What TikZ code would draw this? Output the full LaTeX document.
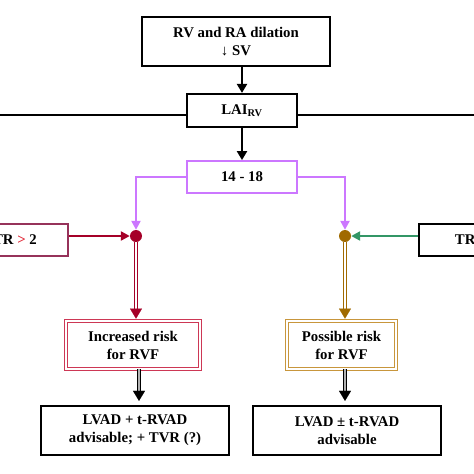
\documentclass[tikz,border=0pt]{standalone}
\usepackage{fontspec}
\setmainfont{Liberation Serif}
\usetikzlibrary{arrows.meta,positioning}
\definecolor{crimson}{RGB}{165,0,40}
\definecolor{rosewood}{RGB}{150,50,90}
\definecolor{hotred}{RGB}{225,40,55}
\definecolor{lilac}{RGB}{204,119,255}
\definecolor{ochre}{RGB}{160,106,0}
\definecolor{tan}{RGB}{200,150,60}
\definecolor{riskpink}{RGB}{205,55,85}
\definecolor{teal}{RGB}{51,150,102}
\tikzset{box/.style={rectangle,draw=black,line width=2.2pt,fill=white,align=center,inner sep=0pt,
			font=\fontsize{14.8}{18}\selectfont\bfseries},
		post/.style={-{Triangle[width=10pt,length=9pt]},line width=2.2pt},
		tip/.style={-{Triangle[width=12pt,length=10pt]},line width=0.1pt},
		dbl/.style={line width=1.4pt,double distance=1.8pt}}

\begin{document}
\begin{tikzpicture}[x=1pt,y=-1pt,
		wide/.style={box,minimum width=188pt,minimum height=49pt},
		risk/.style={box,line width=1.3pt,double=white,double distance=1.8pt,minimum width=134pt,minimum height=47.5pt},
		feed/.style={-{Triangle[width=9pt,length=9pt]},line width=2.6pt},
		dot/.style={circle,inner sep=0pt,minimum size=12pt}]
		\useasboundingbox (0,0) rectangle (474,474);
		\clip (0,0) rectangle (474,474);
		\node[wide] (rv-dilation) at (236,41.5) {RV and RA dilation\\↓ SV};
		\node[box,minimum width=110pt,minimum height=33pt] (lai-rv) at (242,110.5) {LAI\textsubscript{RV}};
		\draw[post] (lai-rv.north |- rv-dilation.south) -- (lai-rv.north);
		\coordinate (rim-left) at (0,115);
		\coordinate (rim-right) at (474,115);
		\draw[line width=2.2pt] (rim-left) -- (rim-left -| lai-rv.west);
		\draw[line width=2.2pt] (lai-rv.east |- rim-right) -- (rim-right);
		
		\node[box,draw=lilac,line width=1.6pt,minimum width=110pt,minimum height=32pt] (range) [below=32pt of lai-rv] {14 - 18};
		\draw[post] (lai-rv.south) -- (lai-rv.south |- range.north);
		
		\node[dot,fill=crimson] (dot-left) at (136,236) {};
		\node[dot,fill=ochre] (dot-right) at (345,236) {};
		\draw[feed,lilac] (range.west) -| (dot-left.north);
		\draw[feed,lilac] (range.east) -| (dot-right.north);
		
		\node[box,draw=rosewood,line width=1.6pt,minimum width=106pt,minimum height=32pt] (tr-left) at (15,240) {TR \textcolor{hotred}{>} 2};
		\node[box,line width=1.8pt,anchor=west,text width=118pt,align=left,minimum height=32pt] (tr-right) at (418,240) {\hspace*{36pt}TR};
		\draw[feed,crimson] (tr-left.east |- dot-left) -- (dot-left.west);
		\draw[feed,teal] (tr-right.west |- dot-right) -- (dot-right.east);
		
		\node[risk,draw=riskpink] (increased-risk) at (133,345) {Increased risk\\for RVF};
		\node[risk,draw=tan,minimum width=109pt] (possible-risk) at (341.5,345) {Possible risk\\for RVF};
		\draw[dbl,draw=crimson] (dot-left.south) -- ([yshift=10pt]dot-left |- increased-risk.north);
		\draw[tip,crimson,shorten >=2pt] ([yshift=12pt]dot-left |- increased-risk.north) -- (dot-left |- increased-risk.north);
		\draw[dbl,draw=ochre] (dot-right.south) -- ([yshift=10pt]dot-right |- possible-risk.north);
		\draw[tip,ochre,shorten >=2pt] ([yshift=12pt]dot-right |- possible-risk.north) -- (dot-right |- possible-risk.north);
		
		\node[wide] (lvad-trvad) at (135,430.5) {LVAD + t-RVAD\\advisable; + TVR (?)};
		\node[wide] (lvad-pm) at (347,430.5) {LVAD ± t-RVAD\\advisable};
		\draw[dbl,draw=black,double=gray!60] ([xshift=6pt]increased-risk.south) -- ([xshift=6pt,yshift=13pt]increased-risk.south |- lvad-trvad.north);
		\draw[tip,black,shorten >=4pt] ([xshift=6pt,yshift=14pt]increased-risk.south |- lvad-trvad.north) -- ([xshift=6pt]increased-risk.south |- lvad-trvad.north);
		\draw[dbl,draw=black,double=gray!60] ([xshift=3.5pt]possible-risk.south) -- ([xshift=3.5pt,yshift=13pt]possible-risk.south |- lvad-pm.north);
		\draw[tip,black,shorten >=4pt] ([xshift=3.5pt,yshift=14pt]possible-risk.south |- lvad-pm.north) -- ([xshift=3.5pt]possible-risk.south |- lvad-pm.north);
	\end{tikzpicture}
\end{document}
